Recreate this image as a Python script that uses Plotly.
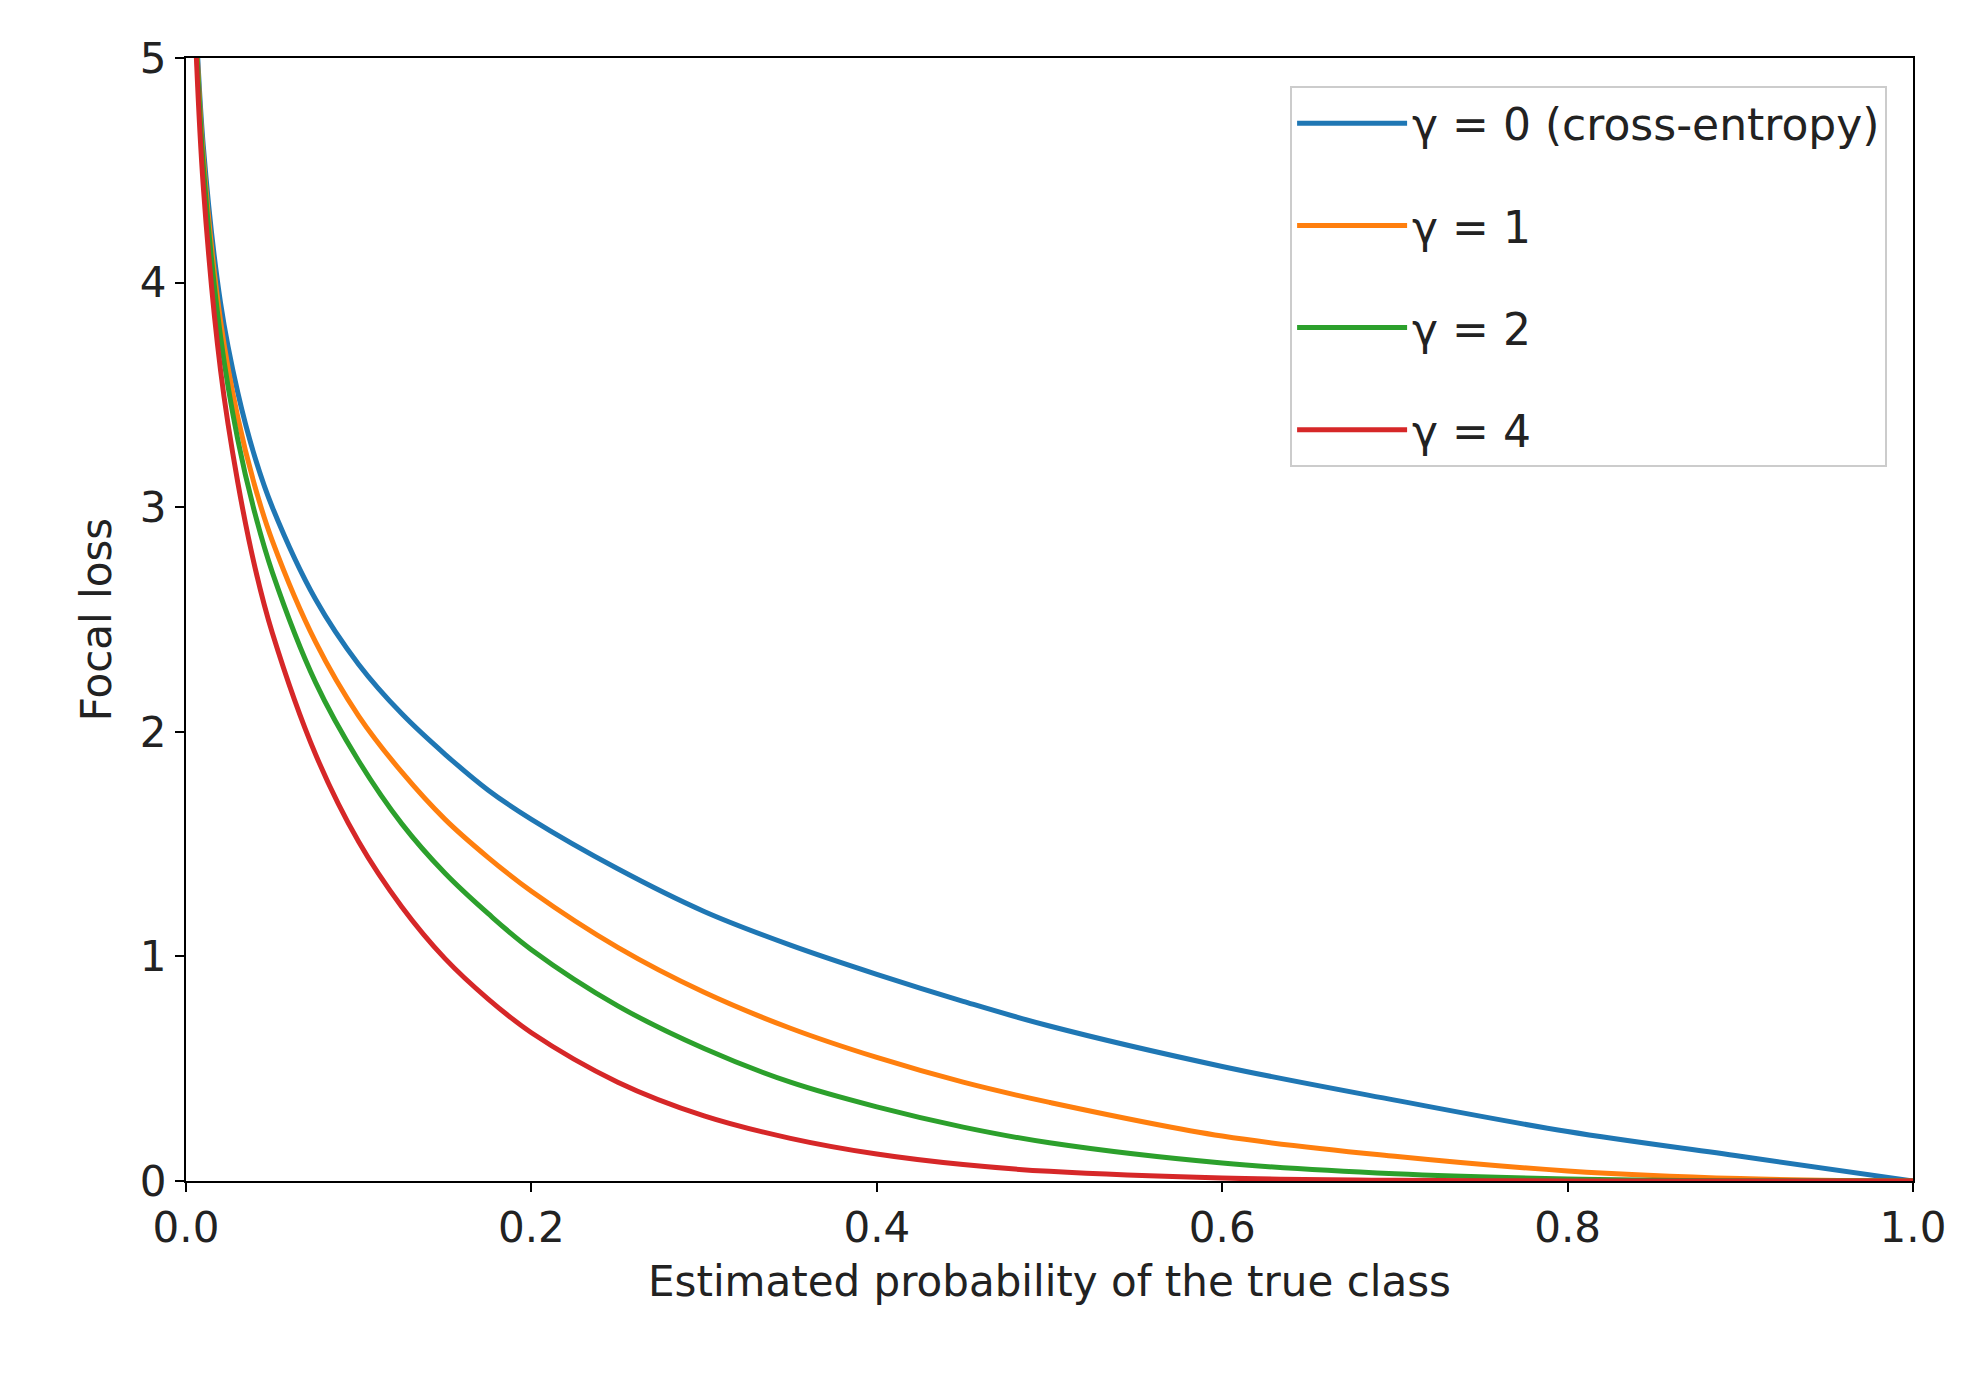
import plotly.graph_objects as go

p = [0.005, 0.01, 0.02, 0.03, 0.04, 0.05, 0.075, 0.1, 0.125, 0.15, 0.175, 0.2, 0.25, 0.3, 0.35, 0.4, 0.45, 0.5, 0.6, 0.7, 0.8, 0.9, 1.0]
loss_g0 = [5.30, 4.61, 3.91, 3.51, 3.22, 3.00, 2.59, 2.30, 2.08, 1.90, 1.74, 1.61, 1.39, 1.20, 1.05, 0.92, 0.80, 0.69, 0.51, 0.36, 0.22, 0.11, 0.0]
loss_g1 = [5.27, 4.56, 3.83, 3.40, 3.09, 2.85, 2.40, 2.07, 1.82, 1.61, 1.44, 1.29, 1.04, 0.84, 0.68, 0.55, 0.44, 0.35, 0.20, 0.11, 0.045, 0.011, 0.0]
loss_g2 = [5.25, 4.52, 3.76, 3.30, 2.97, 2.71, 2.22, 1.87, 1.59, 1.37, 1.19, 1.03, 0.78, 0.59, 0.44, 0.33, 0.24, 0.17, 0.08, 0.032, 0.009, 0.001, 0.0]
loss_g4 = [5.19, 4.43, 3.61, 3.11, 2.73, 2.44, 1.90, 1.51, 1.22, 0.99, 0.81, 0.66, 0.44, 0.29, 0.19, 0.12, 0.073, 0.043, 0.013, 0.003, 0.0004, 0.0, 0.0]
names = ["γ = 0 (cross-entropy)", "γ = 1", "γ = 2", "γ = 4"]
colors = ["#1f77b4", "#ff7f0e", "#2ca02c", "#d62728"]

fig = go.Figure()
for i, (name, ys, c) in enumerate(zip(names, [loss_g0, loss_g1, loss_g2, loss_g4], colors)):
    fig.add_trace(go.Scatter(x=p, y=ys, name=name, mode="lines", legendgroup=f"g{i}",
                             line=dict(color=c, width=5, shape="spline", smoothing=1.0)))

axis = dict(showgrid=False, zeroline=False, showline=True, linecolor="black", linewidth=2,
            mirror=True, ticks="outside", ticklen=9, tickwidth=2, tickcolor="black",
            tickfont=dict(size=42, color="#222"))
fig.update_xaxes(range=[0, 1], dtick=0.2, tickformat=".1f",
                 title=dict(text="Estimated probability of the true class", font=dict(size=42, color="#222")), **axis)
fig.update_yaxes(range=[0, 5], dtick=1,
                 title=dict(text="Focal loss", font=dict(size=42, color="#222")), **axis)
fig.update_layout(
    width=1963, height=1373, template="simple_white",
    font=dict(family="DejaVu Sans"),
    margin=dict(l=178, r=58, t=50, b=200),
    plot_bgcolor="white", paper_bgcolor="white",
    legend=dict(x=0.985, y=0.975, xanchor="right", yanchor="top", font=dict(size=44, color="#222"),
                bordercolor="#cccccc", borderwidth=2, bgcolor="white", itemwidth=110,
                tracegroupgap=42),
)
fig.write_html("out.html")
